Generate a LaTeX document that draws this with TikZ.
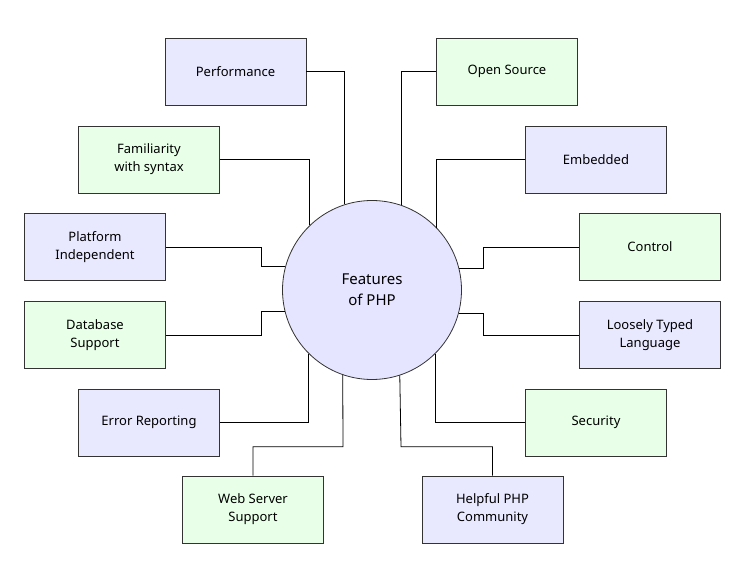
\documentclass[tikz,border=0pt]{standalone}
\usepackage{fontspec}
\setmainfont{Noto Sans}
\begin{document}
\begin{tikzpicture}[x=1pt,y=-1pt,
  box/.style={draw=black!80,line width=0.7pt,minimum width=141pt,minimum height=67pt,align=center,font=\fontsize{13}{18}\selectfont},
  bl/.style={box,fill=blue!9},
  gr/.style={box,fill=green!9},
  ln/.style={draw=black,line width=0.8pt}]
\useasboundingbox (0,0) rectangle (747,569);
\node[circle,draw=black!80,line width=0.8pt,fill=blue!10!white,minimum size=179pt,align=center,font=\bfseries\fontsize{15}{21}\selectfont] (c) at (372,290) {Features\\of PHP};
\node[bl] (perf) at (235.5,71.5) {Performance};
\node[gr] (fam) at (149,159.5) {Familiarity\\with syntax};
\node[bl] (plat) at (95,247) {Platform\\Independent};
\node[gr] (db) at (95,335) {Database\\Support};
\node[bl] (err) at (149,422.5) {Error Reporting};
\node[gr] (web) at (253,509.5) {Web Server\\Support};
\node[gr] (open) at (507,71.5) {Open Source};
\node[bl] (emb) at (596,159.5) {Embedded};
\node[gr] (ctl) at (650,247) {Control};
\node[bl] (loose) at (650,335) {Loosely Typed\\Language};
\node[gr] (sec) at (596,422.5) {Security};
\node[bl] (help) at (492.5,509.5) {Helpful PHP\\Community};
\draw[ln] (perf.east) -| (c.108.9);
\draw[ln] (fam.east) -| (c.134.7);
\draw[ln] (plat.east) -- ++(96,0) |- (c.165.8);
\draw[ln] (db.east) -- ++(96,0) |- (c.194.9);
\draw[ln] (err.east) -| (c.225.3);
\draw[ln] (web.north) |- ++(90,-29) -- (c.251.1);
\draw[ln] (open.west) -| (c.71.1);
\draw[ln] (emb.west) -| (c.44.3);
\draw[ln] (ctl.west) -- ++(-96,0) |- (c.14.2);
\draw[ln] (loose.west) -- ++(-96,0) |- (c.345.1);
\draw[ln] (sec.west) -| (c.315.7);
\draw[ln] (help.north) |- ++(-91.5,-29) -- (c.288.9);
\end{tikzpicture}
\end{document}
